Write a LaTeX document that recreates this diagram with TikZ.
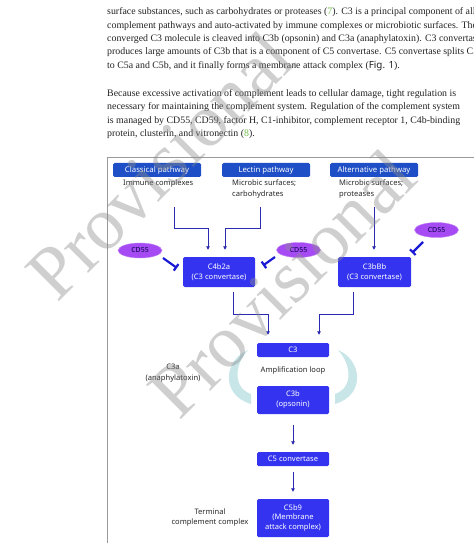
\documentclass[tikz,border=0pt]{standalone}
\usepackage{fontspec}
\setmainfont{Liberation Serif}
\newfontfamily\diag{Noto Sans}
\usetikzlibrary{arrows.meta,calc,shapes.geometric}
\definecolor{hdr}{HTML}{1F4FC6}
\definecolor{boxc}{HTML}{3434F0}
\definecolor{arrc}{HTML}{2A2AB0}
\definecolor{inh}{HTML}{1A1AD6}
\definecolor{cdfill}{HTML}{A64BF4}
\definecolor{cyanarc}{HTML}{C8E5E8}
\definecolor{refgreen}{HTML}{6DBE45}
\definecolor{bodytext}{HTML}{222222}
\definecolor{framec}{HTML}{9A9A9A}
\begin{document}
\begin{tikzpicture}[x=1bp,y=-1bp,
  bodyline/.style={anchor=base west, inner sep=0, font=\fontsize{9.9}{12}\selectfont, text=bodytext},
  hdrbox/.style={fill=hdr, rounded corners=1.5bp, minimum width=88bp, minimum height=14bp, text=white, font=\diag\fontsize{7.8}{8}\selectfont, inner sep=0},
  mainbox/.style={fill=boxc, rounded corners=1.5bp, minimum width=72bp, text=white, font=\diag\fontsize{7.6}{10}\selectfont, align=center, inner sep=0},
  lbl/.style={font=\diag\fontsize{7.6}{11}\selectfont, align=left, inner sep=0, text=black!85},
  clbl/.style={font=\diag\fontsize{7.6}{10.5}\selectfont, align=center, inner sep=0, text=black!85},
  cd/.style={ellipse, fill=cdfill, draw=cdfill!70!white, minimum width=44bp, minimum height=15bp, inner sep=0, font=\diag\fontsize{7}{7}\selectfont, text=black!75!blue},
  conn/.style={draw=arrc, line width=1bp, -{Triangle[width=3.5bp,length=3.5bp]}},
  inhib/.style={draw=inh, line width=2.2bp, -{Bar[width=8bp]}},
  wmark/.style={font=\fontsize{75}{75}\selectfont, text=black!45, text opacity=0.42, rotate=45, inner sep=0},
]
\useasboundingbox (0,0) rectangle (474,543);

% body text
\node[bodyline] (l1) at (107,15) {surface substances, such as carbohydrates or proteases ({\color{refgreen}7}). C3 is a principal component of all};
\node[bodyline] (l2) at (107,28.3) {complement pathways and auto-activated by immune complexes or microbiotic surfaces. The};
\node[bodyline] (l3) at (107,41.6) {converged C3 molecule is cleaved into C3b (opsonin) and C3a (anaphylatoxin). C3 convertase};
\node[bodyline] (l4) at (107,54.9) {produces large amounts of C3b that is a component of C5 convertase. C5 convertase splits C5};
\node[bodyline] (l5) at (107,68.2) {to C5a and C5b, and it finally forms a membrane attack complex ({\diag\bfseries Fig. 1}).};
\node[bodyline] (m1) at (107,96.5) {Because excessive activation of complement leads to cellular damage, tight regulation is};
\node[bodyline] (m2) at (107,109.8) {necessary for maintaining the complement system. Regulation of the complement system};
\node[bodyline] (m3) at (107,123.1) {is managed by CD55, CD59, factor H, C1-inhibitor, complement receptor 1, C4b-binding};
\node[bodyline] (m4) at (107,136.4) {protein, clusterin, and vitronectin ({\color{refgreen}8}).};

% frame
\draw[framec, line width=0.8bp] (474,157) -- (107,157) -- (107,543);

% amplification loop arcs
\fill[cyanarc] (338,350) .. controls (362,360) and (366,395) .. (335,404) -- (335,394) .. controls (353,388) and (352,365) .. (338,350) -- cycle;
\fill[cyanarc] (248,350) .. controls (224,360) and (220,395) .. (251,404) -- (251,394) .. controls (233,388) and (234,365) .. (248,350) -- cycle;

% headers
\node[hdrbox] (h1) at (157,170) {Classical pathway};
\node[hdrbox] (h2) at (266,170) {Lectin pathway};
\node[hdrbox] (h3) at (374,170) {Alternative pathway};
\node[lbl, anchor=north west] (s1) at (123,180) {Immune complexes};
\node[lbl, anchor=north west] (s2) at (232,180) {Microbic surfaces;\\carbohydrates};
\node[lbl, anchor=north west] (s3) at (339,180) {Microbic surfaces;\\proteases};

% main boxes
\node[mainbox, minimum height=30bp] (c4b2a) at (219,272) {C4b2a\\(C3 convertase)};
\node[mainbox, minimum width=73bp, minimum height=30bp] (c3bbb) at (374.5,272) {C3bBb\\(C3 convertase)};
\node[mainbox, minimum height=14bp] (c3) at (293,350) {C3};
\node[clbl] (amp) at (293,371) {Amplification loop};
\node[mainbox, minimum height=28bp] (c3b) at (293,400) {C3b\\(opsonin)};
\node[mainbox, minimum height=14bp] (c5c) at (293,459) {C5 convertase};
\node[mainbox, minimum height=38bp] (c5b9) at (293,518) {C5b9\\(Membrane\\attack complex)};
\node[clbl] (c3a) at (173,373) {C3a\\(anaphylatoxin)};
\node[clbl] (term) at (210,517.5) {Terminal\\complement complex};

% CD55
\node[cd] (cd1) at (140,250.5) {CD55};
\node[cd] (cd2) at (298.5,250) {CD55};
\node[cd] (cd3) at (436.5,230) {CD55};

% connectors
\coordinate (p1) at (174,207);
\coordinate (p2) at (260,207);
\coordinate (p3) at (374,207);
\draw[conn, shorten >=7bp] (p1) -- ++(0,21) -| ([xshift=-11bp]c4b2a.north);
\draw[conn, shorten >=7bp] (p2) -- ++(0,21) -| ([xshift=6bp]c4b2a.north);
\draw[conn, shorten >=7bp] (p3) -- (p3 |- c3bbb.north);
\draw[conn, shorten <=5bp, shorten >=8bp] ([xshift=14bp]c4b2a.south) -- ++(0,27) -| ([xshift=-25bp]c3.north);
\draw[conn, shorten <=5bp, shorten >=8bp] ([xshift=-21.5bp]c3bbb.south) -- ++(0,27) -| ([xshift=26bp]c3.north);
\draw[conn, shorten <=11bp, shorten >=7bp] (c3b.south) -- (c5c.north);
\draw[conn, shorten <=6bp, shorten >=7bp] (c5c.south) -- (c5b9.north);

% inhibition
\coordinate (i1a) at (163,258);
\coordinate (i1b) at (177,268);
\coordinate (i2a) at (275,257);
\coordinate (i2b) at (263,265.5);
\coordinate (i3a) at (423,242);
\coordinate (i3b) at (412,253);
\draw[inhib] (i1a) -- (i1b);
\draw[inhib] (i2a) -- (i2b);
\draw[inhib] (i3a) -- (i3b);

% watermark
\node[wmark] (wm1) at (160,165) {Provisional};
\node[wmark] (wm2) at (282,283) {Provisional};
\end{tikzpicture}
\end{document}
